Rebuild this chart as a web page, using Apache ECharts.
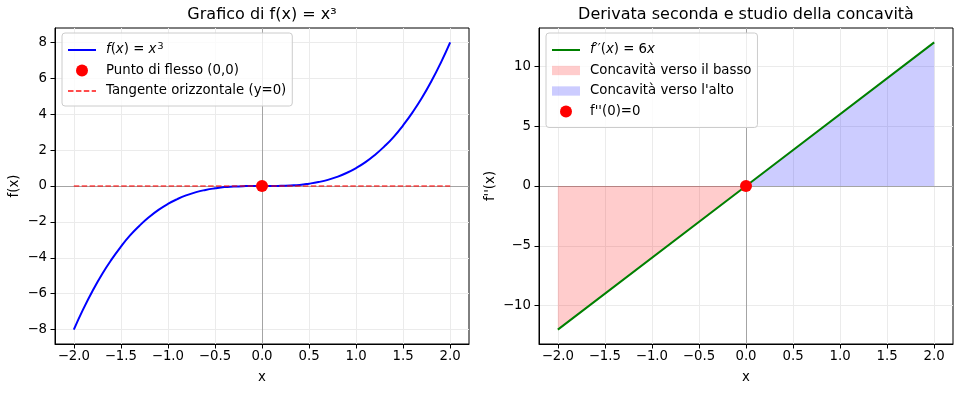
<!DOCTYPE html>
<html><head><meta charset="utf-8">
<script src="https://cdn.jsdelivr.net/npm/echarts@6/dist/echarts.min.js"></script>
<style>html,body{margin:0;padding:0;background:#fff}#c{width:960px;height:393px}</style>
</head><body><div id="c"></div>
<script>
// ---- data ----
const xCube = [-2.0,-1.9,-1.8,-1.7,-1.6,-1.5,-1.4,-1.3,-1.2,-1.1,-1.0,-0.9,-0.8,-0.7,-0.6,-0.5,-0.4,-0.3,-0.2,-0.1,0.0,0.1,0.2,0.3,0.4,0.5,0.6,0.7,0.8,0.9,1.0,1.1,1.2,1.3,1.4,1.5,1.6,1.7,1.8,1.9,2.0];
const yCube = [-8.00,-6.86,-5.83,-4.91,-4.10,-3.38,-2.74,-2.20,-1.73,-1.33,-1.00,-0.73,-0.51,-0.34,-0.22,-0.13,-0.06,-0.03,-0.01,0.00,0.00,0.00,0.01,0.03,0.06,0.13,0.22,0.34,0.51,0.73,1.00,1.33,1.73,2.20,2.74,3.38,4.10,4.91,5.83,6.86,8.00];
const xTangent = [-2.0, 2.0];
const yTangent = [0, 0];
const xFlex = [0];
const yFlex = [0];
const xSecond = [-2.0, 0.0, 2.0];
const ySecond = [-12, 0, 12];
const xConcDown = [-2.0, 0.0];
const yConcDown = [-12, 0];
const xConcUp = [0.0, 2.0];
const yConcUp = [0, 12];
const xTicks = [-2.0,-1.5,-1.0,-0.5,0.0,0.5,1.0,1.5,2.0];
const yTicksLeft = [-8,-6,-4,-2,0,2,4,6,8];
const yTicksRight = [-10,-5,0,5,10];
const titles = ['Grafico di f(x) = x³', 'Derivata seconda e studio della concavità'];
const names = {
  cube: 'f(x) = x^3', flex: 'Punto di flesso (0,0)', tan: 'Tangente orizzontale (y=0)',
  second: "f''(x) = 6x", down: 'Concavità verso il basso', up: "Concavità verso l'alto", zero: "f''(0)=0"
};
// -------------------------------------
const zip = (a, b) => a.map((v, i) => [v, b[i]]);
const FONT = 'DejaVu Sans';
const FS = 13.3;
const minus = s => s.replace('-', '\u2212');
const tickFmtX = v => minus(Number(v).toFixed(1));
const tickFmtY = v => minus(String(Math.round(v)));

function xAxisCfg(gi) {
  return {
    type: 'value', gridIndex: gi, min: -2.2, max: 2.2,
    name: 'x', nameLocation: 'middle', nameGap: 27,
    nameTextStyle: {fontFamily: FONT, fontSize: FS, color: '#000'},
    axisLine: {show: true, onZero: false, lineStyle: {color: '#000', width: 1}},
    axisTick: {show: true, length: 4.5, lineStyle: {color: '#000', width: 1}, customValues: xTicks},
    axisLabel: {customValues: xTicks, formatter: tickFmtX, margin: 6, fontFamily: FONT, fontSize: FS, color: '#000'},
    splitLine: {show: true, lineStyle: {color: '#ebebeb', width: 1}}
  };
}
function yAxisCfg(gi, min, max, ticks, name, gap) {
  return {
    type: 'value', gridIndex: gi, min: min, max: max,
    name: name, nameLocation: 'middle', nameGap: gap,
    nameTextStyle: {fontFamily: FONT, fontSize: FS, color: '#000'},
    axisLine: {show: true, onZero: false, lineStyle: {color: '#000', width: 1}},
    axisTick: {show: true, length: 4.5, lineStyle: {color: '#000', width: 1}, customValues: ticks},
    axisLabel: {customValues: ticks, formatter: tickFmtY, margin: 8, fontFamily: FONT, fontSize: FS, color: '#000'},
    splitLine: {show: true, lineStyle: {color: '#ebebeb', width: 1}}
  };
}
const richMap = {};
richMap[names.cube] = '{i|f}({i|x}) = {i|x}{s|3}';
richMap[names.second] = "{i|f}{n|\u2032\u2032}({i|x}) = 6{i|x}";
const legendText = {
  fontFamily: FONT, fontSize: FS, color: '#000', lineHeight: 16, padding: [0, 0, 0, 5],
  rich: {
    i: {fontFamily: FONT, fontSize: FS, fontStyle: 'italic', lineHeight: 16},
    n: {fontFamily: FONT, fontSize: FS, lineHeight: 16},
    s: {fontFamily: FONT, fontSize: 9.5, lineHeight: 16, verticalAlign: 'top', padding: [0, 0, 4, 1]}
  }
};
const noSym = {opacity: 0};
const grayLine = {color: 'rgba(0,0,0,0.3)', width: 1, type: 'solid'};
function refLines(xi) {
  return {
    type: 'line', xAxisIndex: xi, yAxisIndex: xi, data: [], silent: true, z: 1,
    markLine: {silent: true, z: 1, symbol: ['none', 'none'], label: {show: false}, lineStyle: grayLine,
      emphasis: {disabled: true}, animation: false,
      data: [{xAxis: 0}, {yAxis: 0}]}
  };
}

const option = {
  backgroundColor: '#fff',
  animation: false,
  title: [
    {text: titles[0], left: 262, top: 7, textAlign: 'center', padding: 0,
     textStyle: {fontFamily: FONT, fontSize: 16, fontWeight: 'normal', color: '#000'}},
    {text: titles[1], left: 746, top: 7, textAlign: 'center', padding: 0,
     textStyle: {fontFamily: FONT, fontSize: 16, fontWeight: 'normal', color: '#000'}}
  ],
  grid: [
    {left: 55, top: 28, width: 414, height: 316, show: true, borderColor: '#000', borderWidth: 1, backgroundColor: 'transparent'},
    {left: 539, top: 28, width: 414, height: 316, show: true, borderColor: '#000', borderWidth: 1, backgroundColor: 'transparent'}
  ],
  xAxis: [xAxisCfg(0), xAxisCfg(1)],
  yAxis: [
    yAxisCfg(0, -8.8, 8.8, yTicksLeft, 'f(x)', 34),
    yAxisCfg(1, -13.2, 13.2, yTicksRight, "f''(x)", 42)
  ],
  legend: [
    {orient: 'vertical', left: 62, top: 33, selectedMode: false,
     padding: [9, 6, 7, 5], itemGap: 4.5, itemWidth: 28, itemHeight: 12,
     backgroundColor: 'rgba(255,255,255,0.8)', borderColor: '#cccccc', borderWidth: 1, borderRadius: 3,
     data: [{name: names.cube, itemStyle: noSym}, names.flex, {name: names.tan, itemStyle: noSym}],
     formatter: n => richMap[n] || n, textStyle: legendText},
    {orient: 'vertical', left: 546, top: 33, selectedMode: false,
     padding: [9, 6, 8, 5], itemGap: 4.5, itemWidth: 28, itemHeight: 12,
     backgroundColor: 'rgba(255,255,255,0.8)', borderColor: '#cccccc', borderWidth: 1, borderRadius: 3,
     data: [{name: names.second, itemStyle: noSym},
            {name: names.down, icon: 'path://M0,0H27V9H0Z'},
            {name: names.up, icon: 'path://M0,0H27V9H0Z'},
            names.zero],
     formatter: n => richMap[n] || n, textStyle: legendText}
  ],
  series: [
    refLines(0),
    {name: names.cube, type: 'line', xAxisIndex: 0, yAxisIndex: 0, data: zip(xCube, yCube),
     smooth: true, symbol: 'none', showSymbol: false, color: '#0000ff', z: 3,
     lineStyle: {color: '#0000ff', width: 2}},
    {name: names.tan, type: 'line', xAxisIndex: 0, yAxisIndex: 0, data: zip(xTangent, yTangent),
     symbol: 'none', showSymbol: false, color: 'rgba(255,0,0,0.7)', z: 4,
     lineStyle: {color: 'rgba(255,0,0,0.7)', width: 1.5, type: [5.5, 2.4]}},
    {name: names.flex, type: 'scatter', xAxisIndex: 0, yAxisIndex: 0, data: zip(xFlex, yFlex),
     symbol: 'circle', symbolSize: 12, color: '#ff0000', z: 6, itemStyle: {color: '#ff0000', opacity: 1}},

    refLines(1),
    {name: names.down, type: 'line', xAxisIndex: 1, yAxisIndex: 1, data: zip(xConcDown, yConcDown),
     symbol: 'none', showSymbol: false, color: 'rgba(255,0,0,0.2)', z: 2,
     lineStyle: {width: 0, color: 'rgba(255,0,0,0.2)'}, areaStyle: {color: 'rgba(255,0,0,0.2)', opacity: 1, origin: 'auto'}},
    {name: names.up, type: 'line', xAxisIndex: 1, yAxisIndex: 1, data: zip(xConcUp, yConcUp),
     symbol: 'none', showSymbol: false, color: 'rgba(0,0,255,0.2)', z: 2,
     lineStyle: {width: 0, color: 'rgba(0,0,255,0.2)'}, areaStyle: {color: 'rgba(0,0,255,0.2)', opacity: 1, origin: 'auto'}},
    {name: names.second, type: 'line', xAxisIndex: 1, yAxisIndex: 1, data: zip(xSecond, ySecond),
     symbol: 'none', showSymbol: false, color: '#008000', z: 4,
     lineStyle: {color: '#008000', width: 2}},
    {name: names.zero, type: 'scatter', xAxisIndex: 1, yAxisIndex: 1, data: zip(xFlex, yFlex),
     symbol: 'circle', symbolSize: 12, color: '#ff0000', z: 6, itemStyle: {color: '#ff0000', opacity: 1}}
  ]
};
const chart = echarts.init(document.getElementById('c'), null, {renderer: 'canvas'});
chart.setOption(option);
</script>
</body></html>
